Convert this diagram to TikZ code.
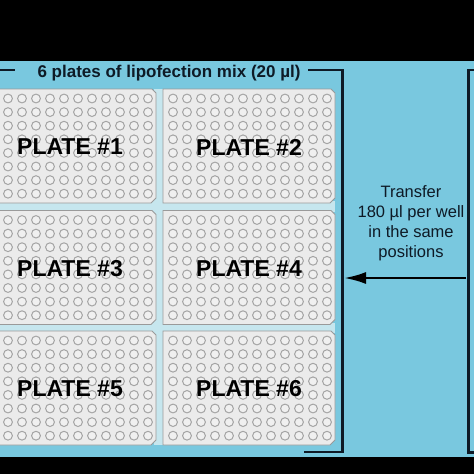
\documentclass[tikz,border=0pt]{standalone}
\usepackage{fontspec}
\setmainfont{Liberation Sans}
\usetikzlibrary{arrows.meta}
\definecolor{skyblue}{HTML}{79C8DF}
\definecolor{gapblue}{HTML}{C6E6EE}
\definecolor{platefill}{HTML}{EBEBEB}
\definecolor{plateedge}{HTML}{9A9A9A}
\definecolor{welledge}{HTML}{A4A4A4}
\definecolor{wellfill}{HTML}{F0F0F0}
\definecolor{bracket}{HTML}{0E1A26}
\begin{document}
\begin{tikzpicture}[x=1pt,y=-1pt,
  platebox/.style={fill=platefill,draw=plateedge,line width=0.8pt},
  wellring/.style={draw=welledge,fill=wellfill,line width=1pt},
  platelabel/.style={font=\bfseries\fontsize{23}{26}\selectfont,text=black,inner sep=0pt},
  bracketline/.style={draw=bracket,line width=2.6pt},
  titletext/.style={font=\bfseries\fontsize{17}{20}\selectfont,text=bracket,inner sep=0pt},
  transfertext/.style={font=\fontsize{16.5}{20}\selectfont,text=bracket,align=center,inner sep=0pt},
  arrowline/.style={draw=black,line width=2.6pt,-{Latex[length=22pt,width=12pt]}}]
\useasboundingbox (0,0) rectangle (474,474);
\clip (0,0) rectangle (474,474);
% background
\fill[skyblue] (0,0) rectangle (474,474);
\fill[black] (0,0) rectangle (474,61);
\fill[black] (0,457) rectangle (474,474);
% gaps between plates
\fill[gapblue] (154,89) rectangle (165,445);
\fill[gapblue] (-16,201) rectangle (335,212);
\fill[gapblue] (-16,323) rectangle (335,333);
% plates
\foreach \px/\py/\n in {-16/89/1,163/89/2,-16/210.5/3,163/210.5/4,-16/331/5,163/331/6}{
  \begin{scope}[shift={(\px,\py)}]
    \draw[platebox] (0,0) -- (168,0) -- (172,4) -- (172,109) -- (167,114) -- (0,114) -- cycle;
    \foreach \i in {0,...,11}{
      \foreach \j in {0,...,7}{
        \draw[wellring] (10+14*\i,9.5+13.6*\j) circle[radius=4.4];
      }
    }
    \node[platelabel] (plate\n) at (86,58) {PLATE \#\n};
  \end{scope}
}
% title and brackets
\node[titletext] (title) at (169,73) {6 plates of lipofection mix (20 µl)};
\coordinate (bl1) at (0,70);
\coordinate (bl2) at (15,70);
\draw[bracketline] (bl1) -- (bl2);
\coordinate (br1) at (308,70);
\coordinate (br2) at (342.5,70);
\coordinate (br3) at (342.5,452);
\coordinate (br4) at (304,452);
\draw[bracketline] (br1) -- (br2) -- (br3) -- (br4);
\coordinate (rb1) at (474,70);
\coordinate (rb2) at (468.5,70);
\coordinate (rb3) at (468.5,452.5);
\coordinate (rb4) at (474,452.5);
\draw[bracketline] (rb1) -- (rb2) -- (rb3) -- (rb4);
% transfer
\node[transfertext] (transfer) at (411,223) {Transfer\\180 µl per well\\in the same\\positions};
\coordinate (arrowStart) at (466,278);
\coordinate (arrowEnd) at (344,278);
\draw[arrowline] (arrowStart) -- (arrowEnd);
\end{tikzpicture}
\end{document}
